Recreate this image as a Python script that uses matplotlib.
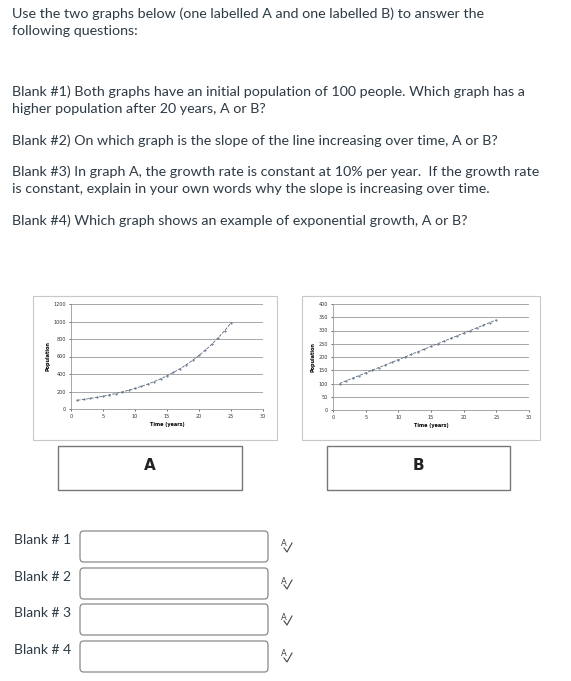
import matplotlib
matplotlib.use("Agg")
import matplotlib.pyplot as plt
from matplotlib.patches import FancyBboxPatch, Rectangle
from matplotlib.lines import Line2D

W, H = 571, 681

years = list(range(1, 26))
pop_a = [100, 110, 121, 133, 146, 161, 177, 195, 214, 236, 259, 285, 314,
         345, 380, 418, 459, 505, 556, 612, 673, 740, 814, 895, 985]
pop_b = [100, 110, 120, 130, 140, 150, 160, 170, 180, 190, 200, 210, 220,
         230, 240, 250, 260, 270, 280, 290, 300, 310, 320, 330, 340]

questions = [
    (14, "Use the two graphs below (one labelled A and one labelled B) to answer the"),
    (31, "following questions:"),
    (92, "Blank #1) Both graphs have an initial population of 100 people. Which graph has a"),
    (109, "higher population after 20 years, A or B?"),
    (141, "Blank #2) On which graph is the slope of the line increasing over time, A or B?"),
    (172, "Blank #3) In graph A, the growth rate is constant at 10% per year.  If the growth rate"),
    (189, "is constant, explain in your own words why the slope is increasing over time."),
    (221, "Blank #4) Which graph shows an example of exponential growth, A or B?"),
]
blank_labels = ["Blank # 1", "Blank # 2", "Blank # 3", "Blank # 4"]
blank_tops = [531, 568, 604, 641]

fig = plt.figure(figsize=(W / 100, H / 100), dpi=100)
txt = "#2d3b45"


def fy(y):
    return 1 - y / H


def fx(x):
    return x / W


def rect(x0, y0, x1, y1, **kw):
    fig.patches.append(Rectangle((fx(x0), fy(y1)), fx(x1) - fx(x0), fy(y0) - fy(y1),
                                 transform=fig.transFigure, fill=False, **kw))


for y, s in questions:
    fig.text(fx(12), fy(y), s, fontsize=10.3, color=txt, va="center", family="Lato")


def chart(frame, axbox, xs, ys, ymax, ystep):
    rect(*frame, lw=0.8, edgecolor="#c8c8c8")
    x0, y0, x1, y1 = axbox
    ax = fig.add_axes([fx(x0), fy(y1), fx(x1) - fx(x0), fy(y0) - fy(y1)])
    ax.plot(xs, ys, ls="--", color="#5a6a80", lw=0.6, marker="o", ms=0.5)
    ax.set_xlim(0, 30)
    ax.set_ylim(0, ymax)
    ax.set_xticks(range(0, 31, 5))
    ax.set_yticks(range(0, ymax + 1, ystep))
    ax.grid(axis="y", color="#999999", lw=0.6)
    ax.set_axisbelow(True)
    for s in ["top", "right"]:
        ax.spines[s].set_visible(False)
    for s in ["left", "bottom"]:
        ax.spines[s].set_color("#999999")
        ax.spines[s].set_linewidth(0.6)
    ax.tick_params(labelsize=3.5, length=1.5, width=0.5, colors="#333333", pad=2)
    ax.set_xlabel("Time (years)", fontsize=3.5, fontweight="bold", labelpad=2)
    ax.set_ylabel("Population", fontsize=3.5, fontweight="bold", labelpad=2)


chart((33, 296, 277, 440), (71, 304, 263, 409), years, pop_a, 1200, 200)
chart((302, 296, 540, 440), (333, 304, 529, 410), years, pop_b, 400, 50)

for (x0, x1), lab in [((58, 242), "A"), ((327, 510), "B")]:
    rect(x0, 446, x1, 490, lw=1.0, edgecolor="#777777")
    fig.text(fx((x0 + x1) / 2), fy(465), lab, fontsize=11, fontweight="bold",
             ha="center", va="center", color="#222222")

for lab, top in zip(blank_labels, blank_tops):
    fig.text(fx(14), fy(top + 9), lab, fontsize=10, color=txt, va="center", family="Lato")
    fig.patches.append(FancyBboxPatch((fx(80), fy(top + 31)), fx(268) - fx(80), fy(top) - fy(top + 31),
                                      boxstyle="round,pad=0,rounding_size=0.006",
                                      transform=fig.transFigure, fill=False,
                                      lw=0.9, edgecolor="#8a8a8a"))
    fig.text(fx(281), fy(top + 13), "A", fontsize=6, color="#444444", va="center")
    fig.lines.append(Line2D([fx(284), fx(287), fx(292)], [fy(top + 17), fy(top + 21), fy(top + 12)],
                            transform=fig.transFigure, color="#444444", lw=0.8))

fig.savefig("out.png", dpi=100)
